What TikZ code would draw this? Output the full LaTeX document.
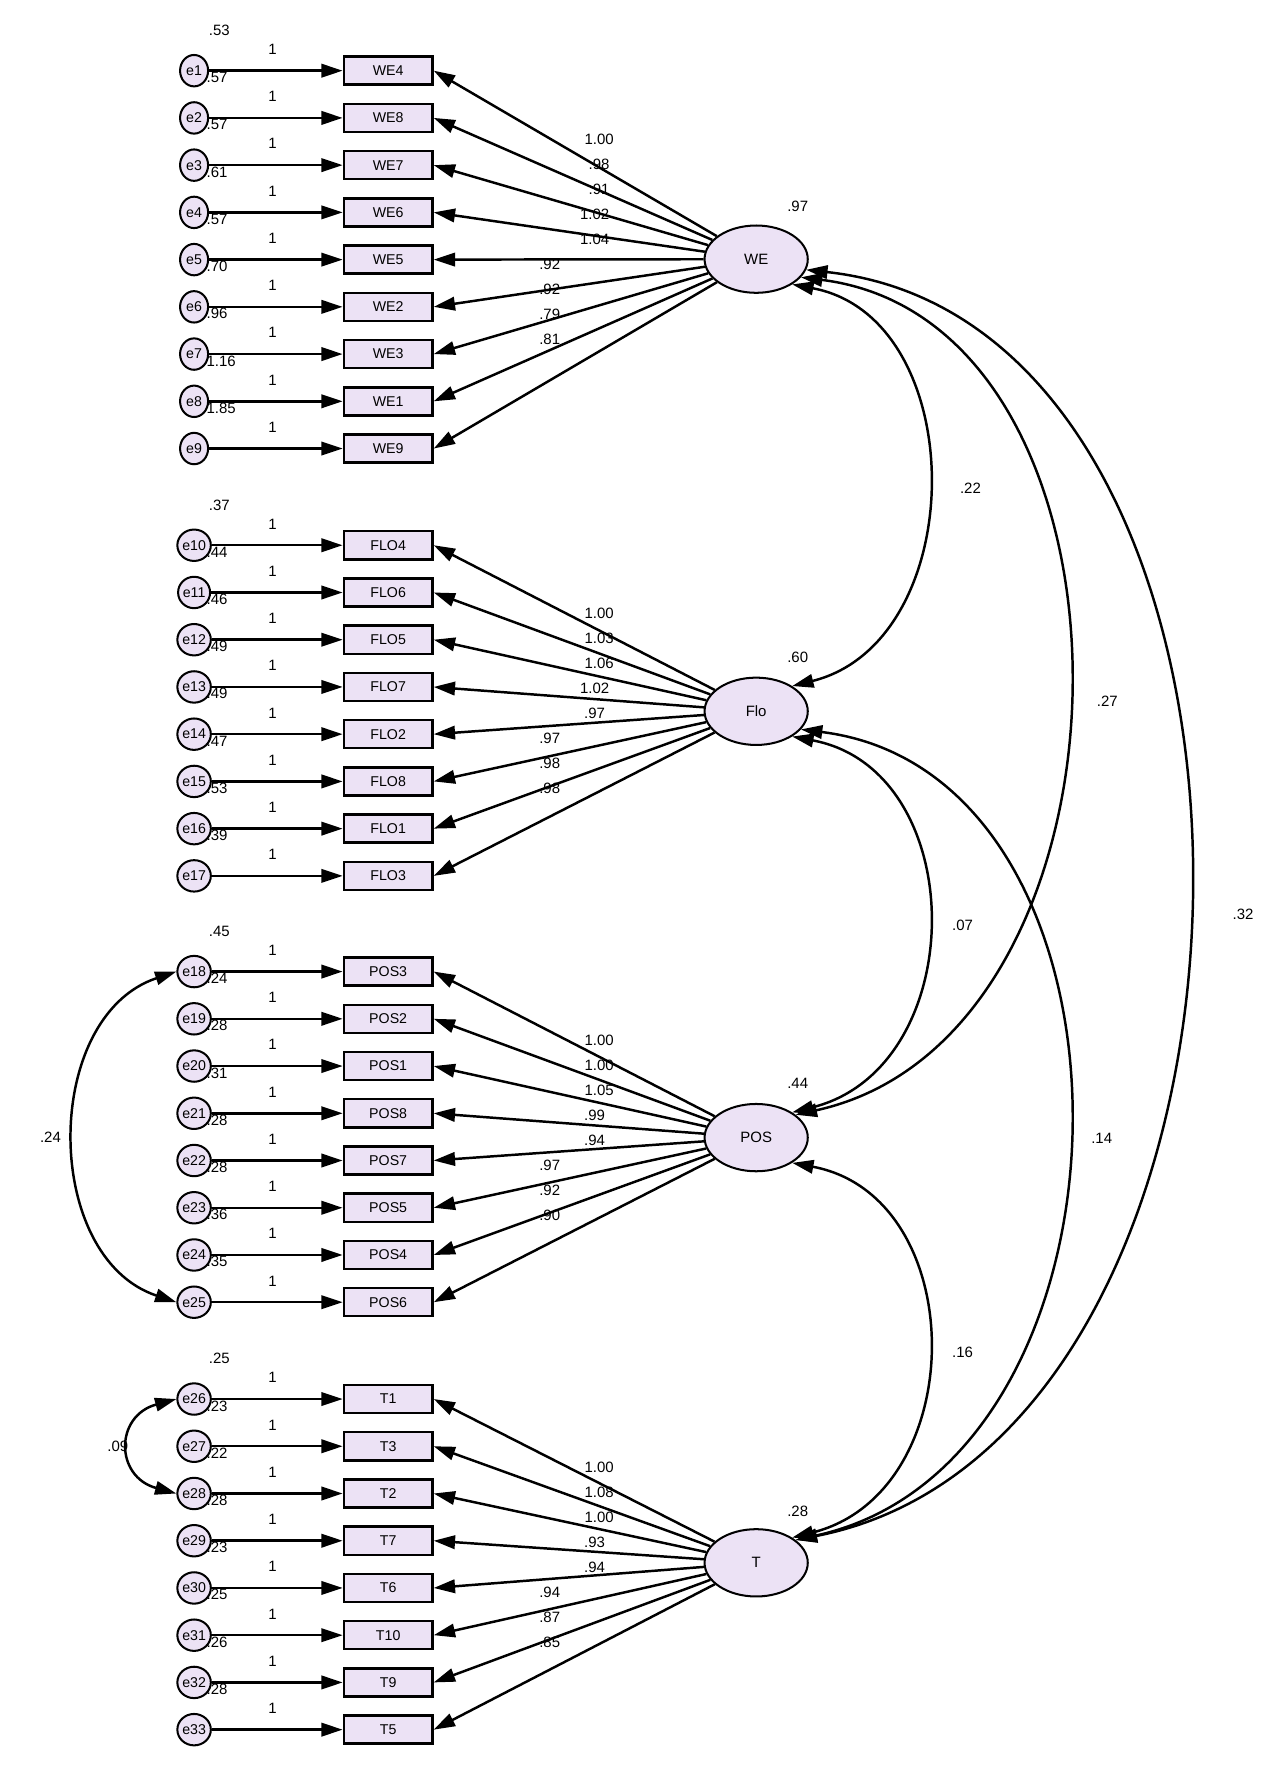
\documentclass[tikz,border=0pt]{standalone}
\usepackage{fontspec}
\setmainfont{Liberation Sans}
\usetikzlibrary{arrows.meta,shapes.geometric}
\definecolor{lav}{RGB}{236,226,245}
\begin{document}
\begin{tikzpicture}[x=0.05cm,y=-0.05cm,
  font=\fontsize{19}{22}\selectfont,
  tip/.style={-{Triangle[length=0.95cm,width=0.6cm]}},
  dtip/.style={{Triangle[length=0.95cm,width=0.6cm]}-{Triangle[length=0.95cm,width=0.6cm]}},
  ln/.style={line width=0.11cm},
  err/.style={ellipse,draw,line width=0.09cm,fill=lav,minimum width=1.25cm,minimum height=1.4cm,inner sep=0pt,font=\fontsize{18}{20}\selectfont},
  obs/.style={rectangle,draw,line width=0.11cm,fill=lav,minimum width=3.95cm,minimum height=1.25cm,inner sep=0pt,font=\fontsize{18}{20}\selectfont},
  lat/.style={ellipse,draw,line width=0.09cm,fill=lav,minimum width=4.6cm,minimum height=3.0cm,inner sep=0pt},
  lbl/.style={inner sep=0pt}]
\useasboundingbox (0,0) rectangle (1146,1575);
\fill[white] (0,0) rectangle (1146,1575);
% latents
\node[lat] (WE) at (674,231) {WE};
\node[lat] (Flo) at (674,634) {Flo};
\node[lat] (POS) at (674,1014) {POS};
\node[lat] (T) at (674,1393) {T};
\node[lbl] at (711,184) {.97};
\node[lbl] at (711,586) {.60};
\node[lbl] at (711,966) {.44};
\node[lbl] at (711,1347) {.28};
\foreach \yy/\lv/\ei/\names/\vars/\loads in {
 63/WE/1/{WE4,WE8,WE7,WE6,WE5,WE2,WE3,WE1,WE9}/{.53,.57,.57,.61,.57,.70,.96,1.16,1.85}/{1.00,.98,.91,1.02,1.04,.92,.92,.79,.81},
 486/Flo/10/{FLO4,FLO6,FLO5,FLO7,FLO2,FLO8,FLO1,FLO3}/{.37,.44,.46,.49,.49,.47,.53,.39}/{1.00,1.03,1.06,1.02,.97,.97,.98,.98},
 866/POS/18/{POS3,POS2,POS1,POS8,POS7,POS5,POS4,POS6}/{.45,.24,.28,.31,.28,.28,.36,.35}/{1.00,1.00,1.05,.99,.94,.97,.92,.90},
 1247/T/26/{T1,T3,T2,T7,T6,T10,T9,T5}/{.25,.23,.22,.28,.23,.25,.26,.28}/{1.00,1.08,1.00,.93,.94,.94,.87,.85}}{
  \foreach \nm [count=\k from 0] in \names {
    \pgfmathsetmacro{\y}{\yy+42.1*\k}
    \node[obs] (o\nm) at (346,\y) {\nm};
    \node[lbl] at (243,\y-19) {1};
  }
  \foreach \v [count=\k from 0] in \vars {
    \pgfmathsetmacro{\y}{\yy+42.1*\k}
    \pgfmathsetmacro{\xl}{\k==0 ? 186 : 184}
    \node[lbl,anchor=west] at (\xl,\y-36) {\v};
  }
  \foreach \nm [count=\k from 0] in \names {
    \pgfmathsetmacro{\y}{\yy+42.1*\k}
    \pgfmathtruncatemacro{\en}{\ei+\k}
    \node[err] (e\en) at (173,\y) {e\en};
    \draw[ln,tip] (e\en) -- (o\nm);
    \draw[ln,tip] (\lv) -- (o\nm.east);
  }
  \foreach \l [count=\k from 0] in \loads {
    \pgfmathsetmacro{\y}{\yy+61+22.3*\k}
    \pgfmathsetmacro{\xx}{\k<3 ? 534 : (\k<5 ? 530 : 490)}
    \node[lbl] at (\xx,\y) {\l};
  }
}
% latent covariances
\draw[ln,dtip] (WE.-35) .. controls +(160,30) and +(160,-40) .. (Flo.35);
\node[lbl] at (865,435) {.22};
\draw[ln,dtip] (WE.-22) .. controls +(320,40) and +(320,-70) .. (POS.30);
\node[lbl] at (987,625) {.27};
\draw[ln,dtip] (WE.-12) .. controls +(460,50) and +(460,-90) .. (T.30);
\node[lbl] at (1108,815) {.32};
\draw[ln,dtip] (Flo.-35) .. controls +(160,30) and +(160,-40) .. (POS.35);
\node[lbl] at (858,825) {.07};
\draw[ln,dtip] (Flo.-22) .. controls +(320,40) and +(320,-70) .. (T.30);
\node[lbl] at (982,1015) {.14};
\draw[ln,dtip] (POS.-35) .. controls +(160,30) and +(160,-40) .. (T.35);
\node[lbl] at (858,1205) {.16};
% error covariances
\draw[ln,dtip] (e18.west) .. controls +(-120,40) and +(-120,-40) .. (e25.west);
\node[lbl] at (45,1014) {.24};
\draw[ln,dtip] (e26.west) .. controls +(-55,15) and +(-55,-15) .. (e28.west);
\node[lbl] at (105,1289) {.09};
\end{tikzpicture}
\end{document}
